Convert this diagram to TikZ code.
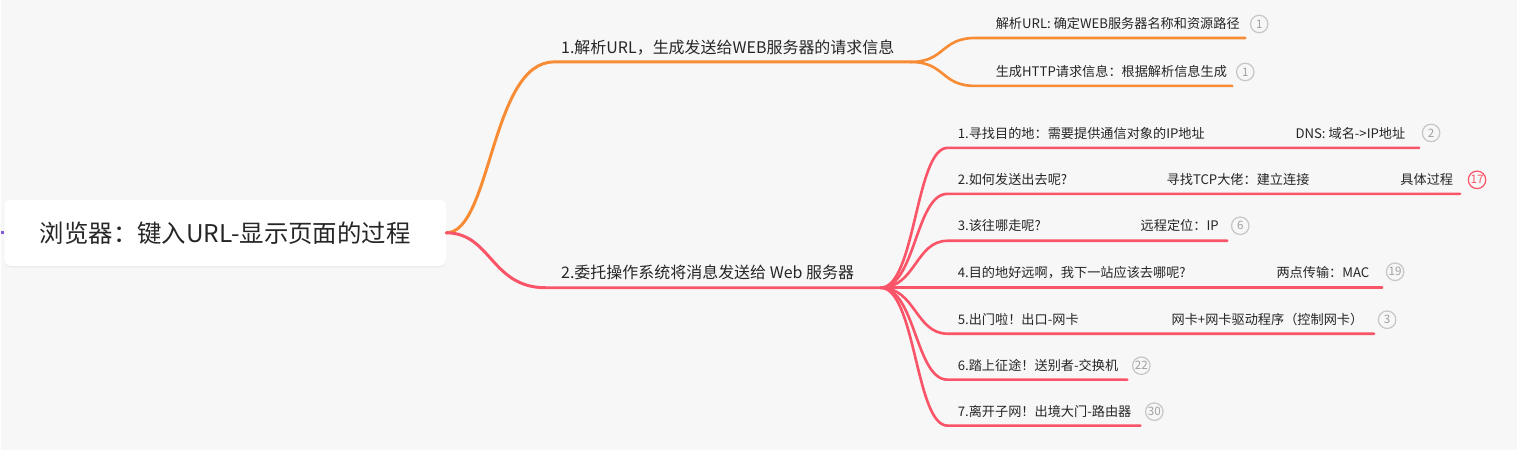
\documentclass[tikz,border=0pt]{standalone}
\usepackage{fontspec}
\setmainfont{Noto Sans CJK SC}
\usetikzlibrary{shadows}
\definecolor{bgcol}{RGB}{247,247,247}
\definecolor{orangebr}{RGB}{248,140,52}
\definecolor{redbr}{RGB}{250,84,104}
\definecolor{txtcol}{RGB}{38,38,38}
\definecolor{markgrey}{RGB}{160,160,160}
\definecolor{purpletick}{RGB}{130,90,220}

\begin{document}
\begin{tikzpicture}[x=0.02cm, y=-0.02cm,
	rootbox/.style={rectangle, rounded corners=0.12cm, fill=white, text=txtcol,
		minimum width=8.84cm, minimum height=1.32cm, inner sep=0,
		drop shadow={shadow xshift=0pt, shadow yshift=-1pt, opacity=0.08},
		font=\fontsize{13.9}{16}\selectfont},
	topic/.style={anchor=west, inner sep=0, text=txtcol, font=\fontsize{9.1}{10}\selectfont},
	subtopic/.style={anchor=west, inner sep=0, text=txtcol, font=\fontsize{7.5}{9}\selectfont},
	orangeline/.style={draw=orangebr, line width=1.7pt, line cap=round},
	orangesub/.style={draw=orangebr, line width=1.5pt, line cap=round},
	redline/.style={draw=redbr, line width=1.7pt, line cap=round},
	redsub/.style={draw=redbr, line width=1.5pt, line cap=round},
	count/.style={circle, draw=black!22, line width=0.7pt, minimum size=0.35cm, inner sep=0,
		text=markgrey, font=\fontsize{6.6}{7}\selectfont}]
			%%%%% START %%%%%
			
			\fill[bgcol] (0, 0) rectangle (1517, 450);
			\draw[purpletick, line width=1.5pt] (0, 233) -- (3, 233);
			
			\node[rootbox] (root) at (224, 233) {浏览器：键入URL-显示页面的过程};
			
			%% branch 1
			\coordinate (b1s) at (553, 62);
			\coordinate (b1e) at (910, 62);
			\node[topic] (b1) at (560, 48) {1.解析URL，生成发送给WEB服务器的请求信息};
			\draw[orangeline] (root.east) .. controls +(45, 0) and +(-63, 0) .. (b1s) -- (b1e);
			
			\coordinate (o1s) at (975, 38);
			\coordinate (o1e) at (1245, 38);
			\node[subtopic] (o1) at (995, 23) {解析URL: 确定WEB服务器名称和资源路径};
			\node[count] (k1) at (1259, 24) {1};
			\draw[orangesub] (b1e) .. controls +(35, 0) and +(-35, 0) .. (o1s) -- (o1e);
			
			\coordinate (o2s) at (975, 86);
			\coordinate (o2e) at (1232, 86);
			\node[subtopic] (o2) at (995, 72) {生成HTTP请求信息：根据解析信息生成};
			\node[count] (k2) at (1245, 72) {1};
			\draw[orangesub] (b1e) .. controls +(35, 0) and +(-35, 0) .. (o2s) -- (o2e);
			
			%% branch 2
			\coordinate (b2s) at (545, 288);
			\coordinate (b2e) at (880, 288);
			\node[topic] (b2) at (560, 273) {2.委托操作系统将消息发送给 Web 服务器};
			\draw[redline] (root.east) .. controls +(45, 0) and +(-55, 0) .. (b2s) -- (b2e);
			
			\coordinate (c1s) at (947, 148);
			\coordinate (c1e) at (1280, 148);
			\coordinate (d1e) at (1419, 148);
			\node[subtopic] (c1) at (957, 134) {1.寻找目的地：需要提供通信对象的IP地址};
			\node[subtopic] (d1) at (1295, 134) {DNS: 域名->IP地址};
			\node[count] (k3) at (1431, 133) {2};
			\draw[redsub] (b2e) .. controls +(35, 0) and +(-32, 0) .. (c1s) -- (c1e) -- (d1e);
			
			\coordinate (c2s) at (947, 194);
			\coordinate (c2e) at (1150, 194);
			\coordinate (d2e) at (1385, 194);
			\coordinate (e2e) at (1460, 194);
			\node[subtopic] (c2) at (957, 180) {2.如何发送出去呢?};
			\node[subtopic] (d2) at (1166, 180) {寻找TCP大佬：建立连接};
			\node[subtopic] (e2) at (1400, 180) {具体过程};
			\node[count, draw=redbr, text=redbr] (k4) at (1477, 180) {17};
			\draw[redsub] (b2e) .. controls +(35, 0) and +(-32, 0) .. (c2s) -- (c2e) -- (d2e) -- (e2e);
			
			\coordinate (c3s) at (947, 241);
			\coordinate (c3e) at (1125, 241);
			\coordinate (d3e) at (1227, 241);
			\node[subtopic] (c3) at (957, 226) {3.该往哪走呢?};
			\node[subtopic] (d3) at (1140, 226) {远程定位：IP};
			\node[count] (k5) at (1240, 226) {6};
			\draw[redsub] (b2e) .. controls +(35, 0) and +(-32, 0) .. (c3s) -- (c3e) -- (d3e);
			
			\coordinate (c4e) at (1260, 288);
			\coordinate (d4e) at (1382, 288);
			\node[subtopic] (c4) at (957, 273) {4.目的地好远啊，我下一站应该去哪呢?};
			\node[subtopic] (d4) at (1276, 273) {两点传输：MAC};
			\node[count] (k6) at (1395, 272) {19};
			\draw[redsub] (b2e) -- (c4e) -- (d4e);
			
			\coordinate (c5s) at (947, 334);
			\coordinate (c5e) at (1155, 334);
			\coordinate (d5e) at (1374, 334);
			\node[subtopic] (c5) at (957, 320) {5.出门啦！出口-网卡};
			\node[subtopic] (d5) at (1171, 320) {网卡+网卡驱动程序（控制网卡）};
			\node[count] (k7) at (1387, 320) {3};
			\draw[redsub] (b2e) .. controls +(35, 0) and +(-32, 0) .. (c5s) -- (c5e) -- (d5e);
			
			\coordinate (c6s) at (947, 380);
			\coordinate (c6e) at (1127, 380);
			\node[subtopic] (c6) at (957, 366) {6.踏上征途！送别者-交换机};
			\node[count] (k8) at (1141, 366) {22};
			\draw[redsub] (b2e) .. controls +(35, 0) and +(-32, 0) .. (c6s) -- (c6e);
			
			\coordinate (c7s) at (947, 426);
			\coordinate (c7e) at (1140, 426);
			\node[subtopic] (c7) at (957, 412) {7.离开子网！出境大门-路由器};
			\node[count] (k9) at (1154, 412) {30};
			\draw[redsub] (b2e) .. controls +(35, 0) and +(-32, 0) .. (c7s) -- (c7e);
			
			%%%%% END %%%%%
\end{tikzpicture}
\end{document}
